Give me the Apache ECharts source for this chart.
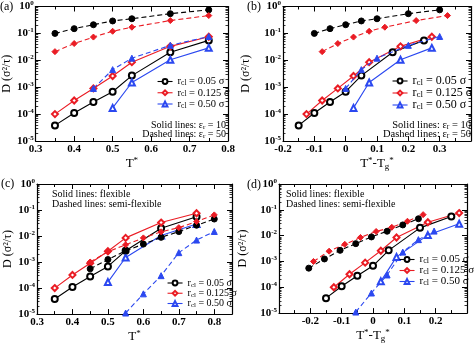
<!DOCTYPE html>
<html>
<head>
<meta charset="utf-8">
<script src="https://cdn.jsdelivr.net/npm/echarts@6/dist/echarts.min.js"></script>
<style>
  html, body { margin: 0; padding: 0; background: #fff; }
  #chart { width: 474px; height: 344px; }
</style>
</head>
<body>
<div id="chart"></div>
<script>
// Temperatures (panels a, c) and reduced temperatures T*-Tg* (panels b, d)
const T_all = [0.35, 0.40, 0.45, 0.50, 0.55, 0.65, 0.75];
const T_blue = [0.50, 0.55, 0.65, 0.75];
const T_eps50_blue = [0.45, 0.50, 0.55, 0.65, 0.75];
const T_semi = [0.45, 0.50, 0.55, 0.60, 0.65, 0.70, 0.75, 0.80];
const T_semi_blue = [0.55, 0.60, 0.65, 0.70, 0.75, 0.80];

// Diffusion coefficients, flexible chains with eps_r = 10 (solid lines)
const D_flex_005 = [3.8e-5, 1.1e-4, 2.8e-4, 6.8e-4, 2.7e-3, 0.020, 0.055];
const D_flex_0125 = [1.0e-4, 3.2e-4, 9.0e-4, 2.6e-3, 8.5e-3, 0.033, 0.075];
const D_flex_05 = [1.7e-4, 1.5e-3, 0.0105, 0.029];

// eps_r = 50 (dashed lines, panels a, b)
const D_eps50_005 = [0.10, 0.15, 0.21, 0.29, 0.35, 0.54, 0.75];
const D_eps50_0125 = [0.021, 0.042, 0.073, 0.12, 0.17, 0.30, 0.46];
const D_eps50_05 = [9.0e-4, 4.5e-3, 0.012, 0.036, 0.077];

// semi-flexible chains (dashed lines, panels c, d)
const D_semi_005 = [5.5e-4, 1.25e-3, 2.7e-3, 4.9e-3, 8.9e-3, 0.0148, 0.026, 0.045];
const D_semi_0125 = [1.0e-3, 2.5e-3, 4.6e-3, 8.5e-3, 0.0145, 0.021, 0.036, 0.065];
const D_semi_05 = [1.1e-5, 6.0e-5, 3.0e-4, 2.3e-3, 7.0e-3, 0.015];

// T* - Tg* for each curve
const dT_flex_005 = [-0.15, -0.10, -0.05, 0.0, 0.05, 0.15, 0.25];
const dT_flex_0125 = [-0.125, -0.075, -0.025, 0.025, 0.075, 0.175, 0.275];
const dT_flex_05 = [0.025, 0.075, 0.175, 0.275];
const dT_eps50_005 = [-0.10, -0.05, 0.0, 0.05, 0.10, 0.20, 0.30];
const dT_eps50_0125 = [-0.075, -0.025, 0.025, 0.075, 0.125, 0.225, 0.325];
const dT_eps50_05 = [0.0, 0.05, 0.10, 0.20, 0.30];
const dT_semi_005 = [-0.205, -0.155, -0.105, -0.055, -0.005, 0.045, 0.095, 0.145];
const dT_semi_0125 = [-0.19, -0.14, -0.09, -0.04, 0.01, 0.06, 0.11, 0.16];
const dT_semi_05 = [-0.055, -0.005, 0.045, 0.095, 0.145, 0.195];

// Axis tick labels
const xTicksA = ['0.3', '0.4', '0.5', '0.6', '0.7', '0.8'];
const xTicksB = ['-0.2', '-0.1', '0', '0.1', '0.2', '0.3'];
const xTicksC = ['0.3', '0.4', '0.5', '0.6', '0.7', '0.8'];
const xTicksD = ['-0.2', '-0.1', '0', '0.1', '0.2'];
const yTickExps = [0, -1, -2, -3, -4, -5];

const legendNames = ['0.05', '0.125', '0.50'];

const BLACK = '#000000', RED = '#ea1c24', BLUE = '#2b48f0';
const SERIF = '"Liberation Serif", "DejaVu Serif", serif';

const zip = (xs, ys) => xs.map((x, i) => [x, ys[i]]);

const grids = [
  { left: 33, top: 6, width: 195, height: 135 },
  { left: 283, top: 6, width: 189, height: 135 },
  { left: 37, top: 184, width: 195, height: 133 },
  { left: 279, top: 184, width: 188, height: 132 }
];
const xRanges = [[0.3, 0.8], [-0.2, 0.4], [0.3, 0.85], [-0.3, 0.3]];
const xTickSets = [xTicksA, xTicksB, xTicksC, xTicksD];
const xNames = [
  '{m|T}{s|*}',
  '{m|T}{s|*}{m|-T}{b|g}{s|*}',
  '{m|T}{s|*}',
  '{m|T}{s|*}{m|-T}{b|g}{s|*}'
];
const xNameGaps = [11, 10, 12, 9];
const yNameGaps = [19, 31, 21, 30];

const nameRich = {
  m: { fontFamily: SERIF, fontSize: 13, color: '#000', lineHeight: 15 },
  s: { fontFamily: SERIF, fontSize: 9, color: '#000', verticalAlign: 'top', lineHeight: 9 },
  b: { fontFamily: SERIF, fontSize: 9, color: '#000', verticalAlign: 'bottom', lineHeight: 9 }
};

const axisLineStyle = { show: true, onZero: false, lineStyle: { color: '#000', width: 1.2 } };

const xAxes = [], yAxes = [];
grids.forEach((g, i) => {
  const [mn, mx] = xRanges[i];
  const ticks = xTickSets[i];
  xAxes.push({
    type: 'value', gridIndex: i, position: 'bottom', min: mn, max: mx, interval: 0.1,
    axisLine: axisLineStyle,
    axisTick: { inside: true, length: 5, lineStyle: { color: '#000', width: 1 } },
    minorTick: { show: true, splitNumber: 2, length: 3, lineStyle: { color: '#000', width: 1 } },
    splitLine: { show: false },
    axisLabel: {
      margin: 3, color: '#000', fontFamily: SERIF, fontWeight: 'bold', fontSize: 11,
      showMinLabel: true, showMaxLabel: true,
      formatter: v => { const s = (+(+v).toFixed(2)).toString(); return ticks.includes(s) ? s : ''; }
    },
    name: xNames[i], nameLocation: 'middle', nameGap: xNameGaps[i],
    nameTextStyle: { rich: nameRich }
  });
  yAxes.push({
    type: 'log', logBase: 10, gridIndex: i, position: 'left', min: 1e-5, max: 1,
    axisLine: axisLineStyle,
    axisTick: { inside: true, length: 5, lineStyle: { color: '#000', width: 1 } },
    minorTick: { show: true, splitNumber: 9, length: 2.5, lineStyle: { color: '#000', width: 0.8 } },
    splitLine: { show: false },
    axisLabel: {
      margin: 2, color: '#000',
      formatter: v => {
        const e = Math.round(Math.log10(v));
        return yTickExps.includes(e) ? '{b|10}{s|' + e + '}' : '';
      },
      rich: {
        b: { fontFamily: SERIF, fontWeight: 'bold', fontSize: 11, color: '#000', lineHeight: 13 },
        s: { fontFamily: SERIF, fontWeight: 'bold', fontSize: 7, color: '#000', verticalAlign: 'top', lineHeight: 8 }
      }
    },
    name: 'D (σ²/τ)', nameLocation: 'middle', nameGap: yNameGaps[i], nameRotate: 90,
    nameTextStyle: { fontFamily: SERIF, fontSize: 12, color: '#000' }
  });
});
// mirrored frame axes (top and right) with inward ticks
grids.forEach((g, i) => {
  const [mn, mx] = xRanges[i];
  xAxes.push({
    type: 'value', gridIndex: i, position: 'top', min: mn, max: mx, interval: 0.1,
    axisLine: axisLineStyle,
    axisTick: { inside: true, length: 5, lineStyle: { color: '#000', width: 1 } },
    minorTick: { show: true, splitNumber: 2, length: 3, lineStyle: { color: '#000', width: 1 } },
    splitLine: { show: false }, axisLabel: { show: false }
  });
  yAxes.push({
    type: 'log', logBase: 10, gridIndex: i, position: 'right', min: 1e-5, max: 1,
    axisLine: axisLineStyle,
    axisTick: { inside: true, length: 5, lineStyle: { color: '#000', width: 1 } },
    minorTick: { show: true, splitNumber: 9, length: 2.5, lineStyle: { color: '#000', width: 0.8 } },
    splitLine: { show: false }, axisLabel: { show: false }
  });
});

function curve(name, panel, xs, ys, color, symbol, dashed) {
  return {
    type: 'line', name: name, xAxisIndex: panel, yAxisIndex: panel,
    data: zip(xs, ys), symbol: symbol, symbolSize: 6, showSymbol: true,
    lineStyle: { color: color, width: 1.1, type: dashed ? [5, 3] : 'solid' },
    itemStyle: { color: color, borderColor: color, borderWidth: 1 },
    z: dashed ? 3 : 2, animation: false
  };
}

const series = [];
// (a) and (c): solid flexible curves vs T*
[0, 2].forEach(p => {
  series.push(curve('0.05', p, T_all, D_flex_005, BLACK, 'emptyCircle', false));
  series.push(curve('0.125', p, T_all, D_flex_0125, RED, 'emptyDiamond', false));
  series.push(curve('0.50', p, T_blue, D_flex_05, BLUE, 'emptyTriangle', false));
});
// (b) and (d): solid flexible curves vs T*-Tg*
[1, 3].forEach(p => {
  series.push(curve('0.05', p, dT_flex_005, D_flex_005, BLACK, 'emptyCircle', false));
  series.push(curve('0.125', p, dT_flex_0125, D_flex_0125, RED, 'emptyDiamond', false));
  series.push(curve('0.50', p, dT_flex_05, D_flex_05, BLUE, 'emptyTriangle', false));
});
// (a) eps_r = 50
series.push(curve('eps50 0.05 T', 0, T_all, D_eps50_005, BLACK, 'circle', true));
series.push(curve('eps50 0.125 T', 0, T_all, D_eps50_0125, RED, 'diamond', true));
series.push(curve('eps50 0.50 T', 0, T_eps50_blue, D_eps50_05, BLUE, 'triangle', true));
// (b) eps_r = 50
series.push(curve('eps50 0.05 dT', 1, dT_eps50_005, D_eps50_005, BLACK, 'circle', true));
series.push(curve('eps50 0.125 dT', 1, dT_eps50_0125, D_eps50_0125, RED, 'diamond', true));
series.push(curve('eps50 0.50 dT', 1, dT_eps50_05, D_eps50_05, BLUE, 'triangle', true));
// (c) semi-flexible
series.push(curve('semi 0.05 T', 2, T_semi, D_semi_005, BLACK, 'circle', true));
series.push(curve('semi 0.125 T', 2, T_semi, D_semi_0125, RED, 'diamond', true));
series.push(curve('semi 0.50 T', 2, T_semi_blue, D_semi_05, BLUE, 'triangle', true));
// (d) semi-flexible
series.push(curve('semi 0.05 dT', 3, dT_semi_005, D_semi_005, BLACK, 'circle', true));
series.push(curve('semi 0.125 dT', 3, dT_semi_0125, D_semi_0125, RED, 'diamond', true));
series.push(curve('semi 0.50 dT', 3, dT_semi_05, D_semi_05, BLUE, 'triangle', true));

function legendAt(left, top, size, lh) {
  return {
    data: legendNames, left: left, top: top, orient: 'vertical', padding: 0,
    itemGap: 0, itemWidth: 15, itemHeight: 6, selectedMode: false,
    itemStyle: { borderWidth: 1 },
    lineStyle: { width: 1.1 },
    formatter: n => '{t|r}{c|cl}{t| = ' + n + ' σ}',
    textStyle: {
      rich: {
        t: { fontFamily: SERIF, fontSize: size, color: '#000', lineHeight: lh },
        c: { fontFamily: SERIF, fontSize: size - 3, color: '#000', verticalAlign: 'bottom', lineHeight: size - 4 }
      }
    }
  };
}

const noteRich = size => ({
  n: { fontFamily: SERIF, fontSize: size, fill: '#000', lineHeight: size + 1 },
  sb: { fontFamily: SERIF, fontSize: size - 3, fill: '#000', verticalAlign: 'bottom', lineHeight: size - 3 }
});
function note(x, y, text, size, align) {
  return {
    type: 'text', x: x, y: y, silent: true,
    style: { text: text, rich: noteRich(size), align: align, verticalAlign: 'middle', fill: '#000',
             fontFamily: SERIF, fontSize: size }
  };
}

const graphic = [
  note(0, 7, '(a)', 12, 'left'),
  note(247, 7, '(b)', 12, 'left'),
  note(1, 184, '(c)', 12, 'left'),
  note(247, 185, '(d)', 12, 'left'),
  note(226, 125, '{n|Solid lines: ε}{sb|r}{n| = 10}', 10, 'right'),
  note(226, 134, '{n|Dashed lines: ε}{sb|r}{n| = 50}', 10, 'right'),
  note(471, 125, '{n|Solid lines: ε}{sb|r}{n| = 10}', 10.5, 'right'),
  note(471, 134, '{n|Dashed lines: ε}{sb|r}{n| = 50}', 10.5, 'right'),
  note(52, 194, 'Solid lines: flexible', 10, 'left'),
  note(52, 204, 'Dashed lines: semi-flexible', 10, 'left'),
  note(286, 194, 'Solid lines: flexible', 10, 'left'),
  note(286, 204, 'Dashed lines: semi-flexible', 10, 'left')
];

const chart = echarts.init(document.getElementById('chart'), null, { renderer: 'canvas' });
chart.setOption({
  animation: false,
  backgroundColor: '#fff',
  grid: grids.map(g => Object.assign({ containLabel: false }, g)),
  xAxis: xAxes,
  yAxis: yAxes,
  legend: [legendAt(157, 76, 10.5, 11.5), legendAt(392, 75, 12, 11.5),
           legendAt(167, 278, 10, 10.5), legendAt(399, 254, 11, 10.5)],
  graphic: graphic,
  series: series
});
</script>
</body>
</html>
